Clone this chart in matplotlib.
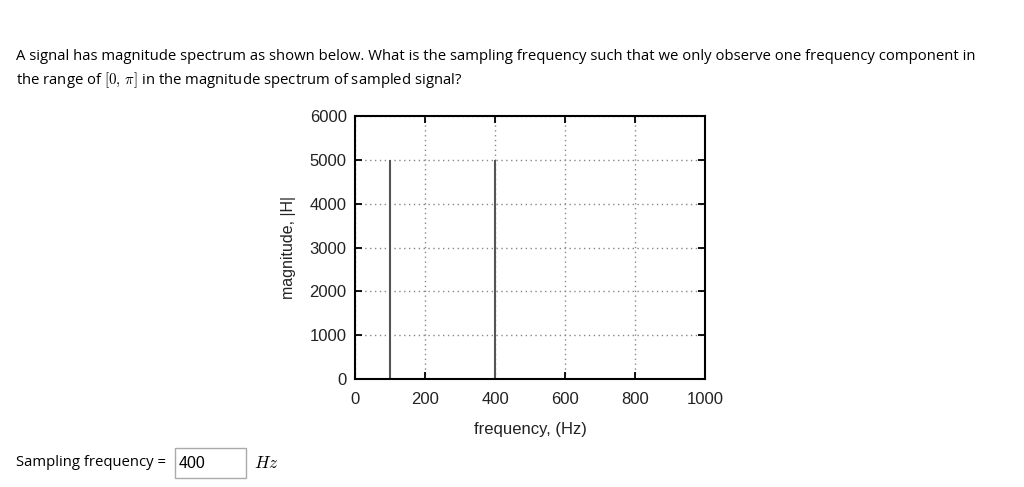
import matplotlib
matplotlib.use("Agg")
import matplotlib.pyplot as plt
from matplotlib.patches import Rectangle

freqs = [100, 400]
mags = [5000, 5000]
xticks = [0, 200, 400, 600, 800, 1000]
yticks = [0, 1000, 2000, 3000, 4000, 5000, 6000]

fig = plt.figure(figsize=(10.24, 4.87), dpi=100)
W, H = 1024, 487

ax = fig.add_axes([355 / W, 1 - 379.3 / H, 350 / W, 263.6 / H])
ax.vlines(freqs, 0, mags, colors="#555555", linewidth=1.5)
ax.set_xlim(0, 1000)
ax.set_ylim(0, 6000)
ax.set_xticks(xticks)
ax.set_yticks(yticks)
ax.grid(True, linestyle=(0, (1, 2.5)), color="#888888", linewidth=1.0)
ax.tick_params(direction="in", length=5, width=1.3, top=True, right=True,
               labelsize=12, pad=6, labelcolor="#222222")
ax.tick_params(axis="x", pad=9)
for lab in ax.get_xticklabels() + ax.get_yticklabels():
    lab.set_family("Liberation Sans")
for s in ax.spines.values():
    s.set_linewidth(1.5)
ax.set_xlabel("frequency, (Hz)", family="Liberation Sans", fontsize=12,
              labelpad=11, color="#222222")
ax.set_ylabel("magnitude, |H|", family="Liberation Sans", fontsize=11.5,
              labelpad=10, color="#222222")

tf = "Open Sans"
fig.text(16 / W, 1 - 57 / H,
         "A signal has magnitude spectrum as shown below. What is the sampling frequency such that we only observe one frequency component in",
         family=tf, fontsize=10.75, va="center", ha="left")
fig.text(16 / W, 1 - 80 / H,
         r"the range of $[0,\,\pi]$ in the magnitude spectrum of sampled signal?",
         family=tf, fontsize=10.75, va="center", ha="left", math_fontfamily="cm")

fig.text(16 / W, 1 - 463 / H, "Sampling frequency =", family=tf, fontsize=10.75,
         va="center", ha="left")
fig.patches.append(Rectangle((175 / W, 1 - 478 / H), 71 / W, 30 / H,
                             transform=fig.transFigure, fill=False,
                             edgecolor="#aaaaaa", linewidth=1.0))
fig.text(179 / W, 1 - 463 / H, "400", family="Liberation Sans", fontsize=11.5,
         va="center", ha="left")
fig.text(254 / W, 1 - 463 / H, r"$Hz$", fontsize=12.5, va="center", ha="left",
         math_fontfamily="cm")

fig.savefig("out.png", dpi=100)
